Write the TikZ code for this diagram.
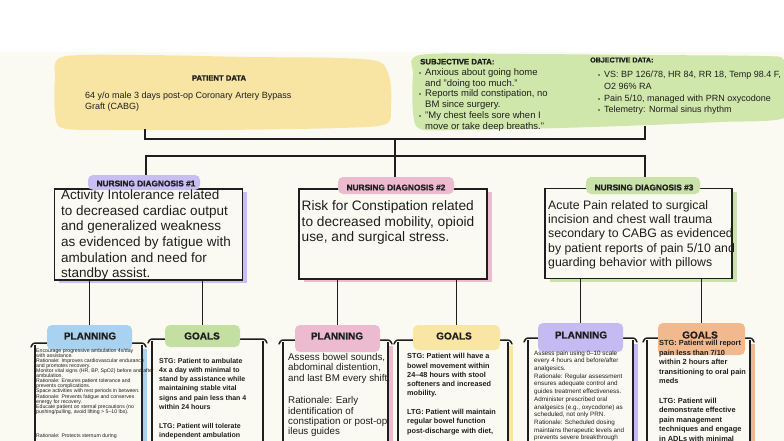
\documentclass[tikz,border=0pt]{standalone}
\usepackage{fontspec}
\setmainfont{Liberation Sans}
\newfontfamily\heavy[FakeBold=1.2]{Liberation Sans Bold}
\usetikzlibrary{shadows}
\definecolor{cream}{HTML}{FBFAF2}
\definecolor{ink}{HTML}{1E1E1E}
\definecolor{yblob}{HTML}{F8E5A3}
\definecolor{gblob}{HTML}{D0E7AB}
\definecolor{lavT}{HTML}{C8BEF3}
\definecolor{pinkT}{HTML}{EDBBD0}
\definecolor{greenT}{HTML}{C9E2A9}
\definecolor{blueT}{HTML}{A8D2EF}
\definecolor{greenG}{HTML}{C3DFA2}
\definecolor{yellowG}{HTML}{F9E6A4}
\definecolor{lavP}{HTML}{C6BAF2}
\definecolor{orangeG}{HTML}{F2B88E}
\newcommand{\fsz}[2]{\fontsize{#1}{#2}\selectfont}
\newcommand{\bul}{\llap{{\fsz{6}{6}•}\hspace{4pt}}}
\newcommand{\scrollbox}[4]{%
  \fill[#4] (#2,#3+6) rectangle (#2+5,450);
  \fill[cream] (#1,#3+1) rectangle (#2,450);
  \draw[boxline] (#1,#3+2) -- (#1,450);
  \draw[boxline] (#2,#3+2) -- (#2,450);
  \draw[boxline, line cap=round] (#1-4,#3+4) .. controls (#1-2,#3) .. (#1+3,#3) -- (#2-3,#3) .. controls (#2+2,#3) .. (#2+4,#3+4);
}
\begin{document}
\begin{tikzpicture}[x=1pt,y=-1pt,
  conn/.style={draw=ink, line width=1.7pt},
  boxline/.style={draw=ink, line width=1.5pt},
  tagbox/.style={rounded corners=5pt, inner sep=0pt, draw=none},
  heading/.style={font=\heavy\fsz{8.3}{9}, text=ink, inner sep=0pt},
  bighead/.style={font=\heavy\fsz{10}{11}, text=ink, inner sep=0pt},
  txt/.style={anchor=north west, align=left, inner sep=0pt, text=ink},
  dxbox/.style={boxline, fill=cream, inner sep=0pt},
]
\useasboundingbox (0,0) rectangle (784,441);
\clip (0,0) rectangle (784,441);
% background
\fill[white] (0,0) rectangle (784,441);
\fill[cream] (0,52) rectangle (784,441);

% blobs
\fill[yblob] plot[smooth cycle, tension=0.5] coordinates {(62,57) (140,55) (250,57) (340,58) (380,62) (390,80) (391,105) (386,124) (340,128) (220,130) (110,130) (62,128) (55,112) (55,80)};
\fill[gblob] plot[smooth cycle, tension=0.5] coordinates {(420,55) (520,54) (640,55) (760,56) (784,60) (790,90) (784,118) (720,122) (650,125) (560,128) (460,130) (420,129) (413,112) (413,75)};

% patient data
\node[heading, font=\heavy\fsz{7.7}{9}] (pdtitle) at (219,78) {PATIENT DATA};
\node[txt, font=\fsz{9}{11.2}] (pdtext) at (85,91.5) {64 y/o male 3 days post-op Coronary Artery Bypass\\Graft (CABG)};

% subjective / objective
\node[heading, font=\heavy\fsz{7.8}{9}, anchor=west] (subtitle) at (420,61.7) {SUBJECTIVE DATA:};
\node[txt, font=\fsz{9.5}{10.8}] (subtext) at (425,68.3) {\bul Anxious about going home\\and "doing too much."\\\bul Reports mild constipation, no\\BM since surgery.\\\bul "My chest feels sore when I\\move or take deep breaths."};
\node[heading, font=\heavy\fsz{7.1}{9}, anchor=west] (objtitle) at (590,60) {OBJECTIVE DATA:};
\node[txt, font=\fsz{9}{11.7}] (objtext) at (604,70.9) {\bul VS: BP 126/78, HR 84, RR 18, Temp 98.4 F,\\O2 96\% RA\\\bul Pain 5/10, managed with PRN oxycodone\\\bul Telemetry: Normal sinus rhythm};

% connector coordinates
\coordinate (pdb) at (145,129);
\coordinate (obb) at (645,126);
\coordinate (j) at (395,139);
\coordinate (b1) at (146,156);
\coordinate (b3) at (645,156);

% diagnosis boxes
\node[dxbox, minimum width=188pt, minimum height=91pt, drop shadow={shadow xshift=4pt, shadow yshift=-3pt, fill=lavT, opacity=1}] (dx1) at (148.5,234.5) {};
\node[dxbox, minimum width=188pt, minimum height=90pt, drop shadow={shadow xshift=5pt, shadow yshift=-3pt, fill=pinkT, opacity=1}] (dx2) at (393,234) {};
\node[dxbox, minimum width=187pt, minimum height=90pt, drop shadow={shadow xshift=5pt, shadow yshift=-3pt, fill=greenT, opacity=1}] (dx3) at (638.5,233.5) {};

% diagnosis tags
\node[tagbox, fill=lavT, minimum width=112pt, minimum height=15pt] (t1) at (144,182.5) {};
\node[tagbox, fill=pinkT, minimum width=116pt, minimum height=17pt] (t2) at (396,185.5) {};
\node[tagbox, fill=greenT, minimum width=114pt, minimum height=17pt] (t3) at (643,185.5) {};
\node[heading] (t1l) at (146,183.5) {NURSING DIAGNOSIS \#1};
\node[heading] (t2l) at (396,187.5) {NURSING DIAGNOSIS \#2};
\node[heading] (t3l) at (644,187.5) {NURSING DIAGNOSIS \#3};

% top connectors
\draw[conn] (pdb) |- (j) -| (obb);
\draw[conn] (j) -- (j |- t2.north);
\draw[conn] (b1 |- t1.north) -- (b1) -- (b3) -- (b3 |- t3.north);

% diagnosis texts
\node[txt, font=\fsz{13.5}{15.6}] (dx1t) at (61,189.8) {Activity Intolerance related\\to decreased cardiac output\\and generalized weakness\\as evidenced by fatigue with\\ambulation and need for\\standby assist.};
\node[txt, font=\fsz{13.7}{15.5}] (dx2t) at (301.5,200.4) {Risk for Constipation related\\to decreased mobility, opioid\\use, and surgical stress.};
\node[txt, font=\fsz{12.3}{14.2}] (dx3t) at (548,200.3) {Acute Pain related to surgical\\incision and chest wall trauma\\secondary to CABG as evidenced\\by patient reports of pain 5/10 and\\guarding behavior with pillows};

% lower boxes
\scrollbox{35}{142}{343}{blueT}
\scrollbox{152}{263}{339}{cream}
\scrollbox{283}{388}{340}{pinkT}
\scrollbox{398}{508}{340}{yellowG}
\scrollbox{528}{633}{338}{lavP}
\scrollbox{647}{750}{338}{orangeG}

% lower tags
\node[tagbox, fill=blueT, minimum width=85pt, minimum height=25pt] (p1) at (89.5,337.5) {};
\node[tagbox, fill=greenG, minimum width=75pt, minimum height=22pt] (g1) at (202.5,336) {};
\node[tagbox, fill=pinkT, minimum width=85pt, minimum height=27pt] (p2) at (337.5,338.5) {};
\node[tagbox, fill=yellowG, minimum width=87pt, minimum height=25pt] (g2) at (456.5,337.5) {};
\node[tagbox, fill=lavP, minimum width=85pt, minimum height=29pt] (p3) at (580.5,337.5) {};
\node[tagbox, fill=orangeG, minimum width=87pt, minimum height=32pt] (g3) at (701.5,339) {};

% lower connectors
\draw[conn] (p1.north |- dx1.south) -- (p1.north);
\draw[conn] (g1.north |- dx1.south) -- (g1.north);
\draw[conn] (p2.north |- dx2.south) -- (p2.north);
\draw[conn] (g2.north |- dx2.south) -- (g2.north);
\draw[conn] (p3.north |- dx3.south) -- (p3.north);
\draw[conn] (g3.north |- dx3.south) -- (g3.north);

\node[bighead] (p1l) at (90,336) {PLANNING};
\node[bighead] (g1l) at (202,336) {GOALS};
\node[bighead] (p2l) at (337,336) {PLANNING};
\node[bighead] (g2l) at (454,336) {GOALS};
\node[bighead] (p3l) at (581,335) {PLANNING};
\node[bighead] (g3l) at (700,335) {GOALS};

% lower texts
\node[txt, font=\fsz{5.2}{5.05}] (pt1) at (36,348.6) {Encourage progressive ambulation 4x/day\\with assistance.\\Rationale: Improves cardiovascular endurance\\and promotes recovery.\\Monitor vital signs (HR, BP, SpO2) before and after\\ambulation.\\Rationale: Ensures patient tolerance and\\prevents complications.\\Space activities with rest periods in between.\\Rationale: Prevents fatigue and conserves\\energy for recovery.\\Educate patient on sternal precautions (no\\pushing/pulling, avoid lifting > 5–10 lbs).};
\node[txt, font=\fsz{5.2}{5.05}] (pt1b) at (36,433.6) {Rationale: Protects sternum during};
\node[txt, font=\bfseries\fsz{7}{9.3}] (gt1) at (159,357.8) {STG: Patient to ambulate\\4x a day with minimal to\\stand by assistance while\\maintaining stable vital\\signs and pain less than 4\\within 24 hours\\[9.3pt]LTG: Patient will tolerate\\independent ambulation};
\node[txt, font=\fsz{9.8}{10.4}] (pt2) at (288,353.2) {Assess bowel sounds,\\abdominal distention,\\and last BM every shift.\\[12pt]Rationale: Early\\identification of\\constipation or post-op\\ileus guides};
\node[txt, font=\bfseries\fsz{7.3}{9.3}] (gt2) at (407,353.3) {STG: Patient will have a\\bowel movement within\\24–48 hours with stool\\softeners and increased\\mobility.\\[9.3pt]LTG: Patient will maintain\\regular bowel function\\post-discharge with diet,};
\node[txt, font=\fsz{6.3}{7.7}] (pt3) at (534,350.4) {Assess pain using 0–10 scale\\every 4 hours and before/after\\analgesics.\\Rationale: Regular assessment\\ensures adequate control and\\guides treatment effectiveness.\\Administer prescribed oral\\analgesics (e.g., oxycodone) as\\scheduled, not only PRN.\\Rationale: Scheduled dosing\\maintains therapeutic levels and\\prevents severe breakthrough};
\node[txt, font=\bfseries\fsz{7.4}{9.6}] (gt3) at (659,339.9) {STG: Patient will report\\pain less than 7/10\\within 2 hours after\\transitioning to oral pain\\meds\\[9.6pt]LTG: Patient will\\demonstrate effective\\pain management\\techniques and engage\\in ADLs with minimal};
\end{tikzpicture}
\end{document}
